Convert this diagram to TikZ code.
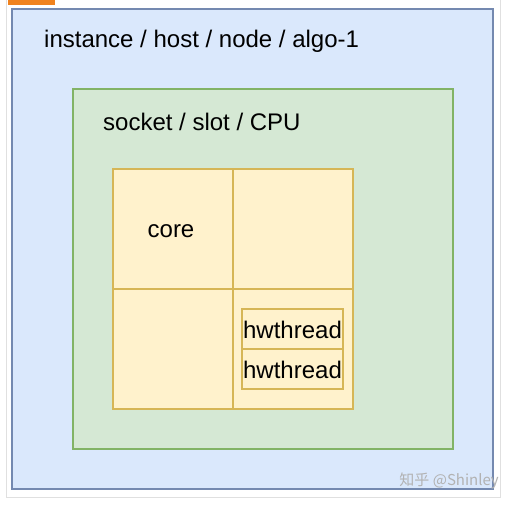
\documentclass[tikz,border=0pt]{standalone}
\usepackage{fontspec}
\setmainfont{Liberation Sans}
\newfontfamily\cjk{Noto Sans CJK SC}

\definecolor{hostfill}{HTML}{dae8fc}
\definecolor{hostline}{HTML}{7489b0}
\definecolor{cpufill}{HTML}{d5e8d4}
\definecolor{cpuline}{HTML}{82b366}
\definecolor{corefill}{HTML}{fff2cc}
\definecolor{coreline}{HTML}{d6b656}
\definecolor{tab}{HTML}{f0821e}

\begin{document}
\begin{tikzpicture}[
  x=1pt, y=-1pt,
  line join=miter,
  every node/.style={font=\fontsize{24}{28}\selectfont, inner sep=0pt},
  frame/.style={draw=black!12, fill=white, line width=1pt},
  host/.style={draw=hostline, fill=hostfill, line width=1.5pt},
  cpu/.style={draw=cpuline, fill=cpufill, line width=1.4pt},
  core/.style={draw=coreline, fill=corefill, line width=1.3pt},
  label/.style={anchor=west},
  watermark/.style={font=\cjk\fontsize{15}{18}\selectfont, text=black!30},
]
\useasboundingbox (0,0) rectangle (512,506);
\draw[frame] (6,-5) rectangle (500,497);
\fill[tab] (8,0) rectangle (55,5);
% instance
\draw[host] (12,9) rectangle (493,489);
\node[label] (hostlbl) at (44,41.5) {instance / host / node / algo-1};
% socket
\draw[cpu] (73,89) rectangle (453,449);
\node[label] (cpulbl) at (103,121.5) {socket / slot / CPU};
% cores
\draw[core] (113,169) rectangle (233,289);
\draw[core] (233,169) rectangle (353,289);
\draw[core] (113,289) rectangle (233,409);
\draw[core] (233,289) rectangle (353,409);
\node (corelbl) at (171,231.5) {core};
% hardware threads
\draw[core] (242,309) rectangle (343,349);
\draw[core] (242,349) rectangle (343,389);
\node (hwa) at (292.5,330) {hwthread};
\node (hwb) at (292.5,370) {hwthread};
\node[watermark, anchor=east] (wm) at (499,481) {知乎 @Shinley};
\end{tikzpicture}
\end{document}
